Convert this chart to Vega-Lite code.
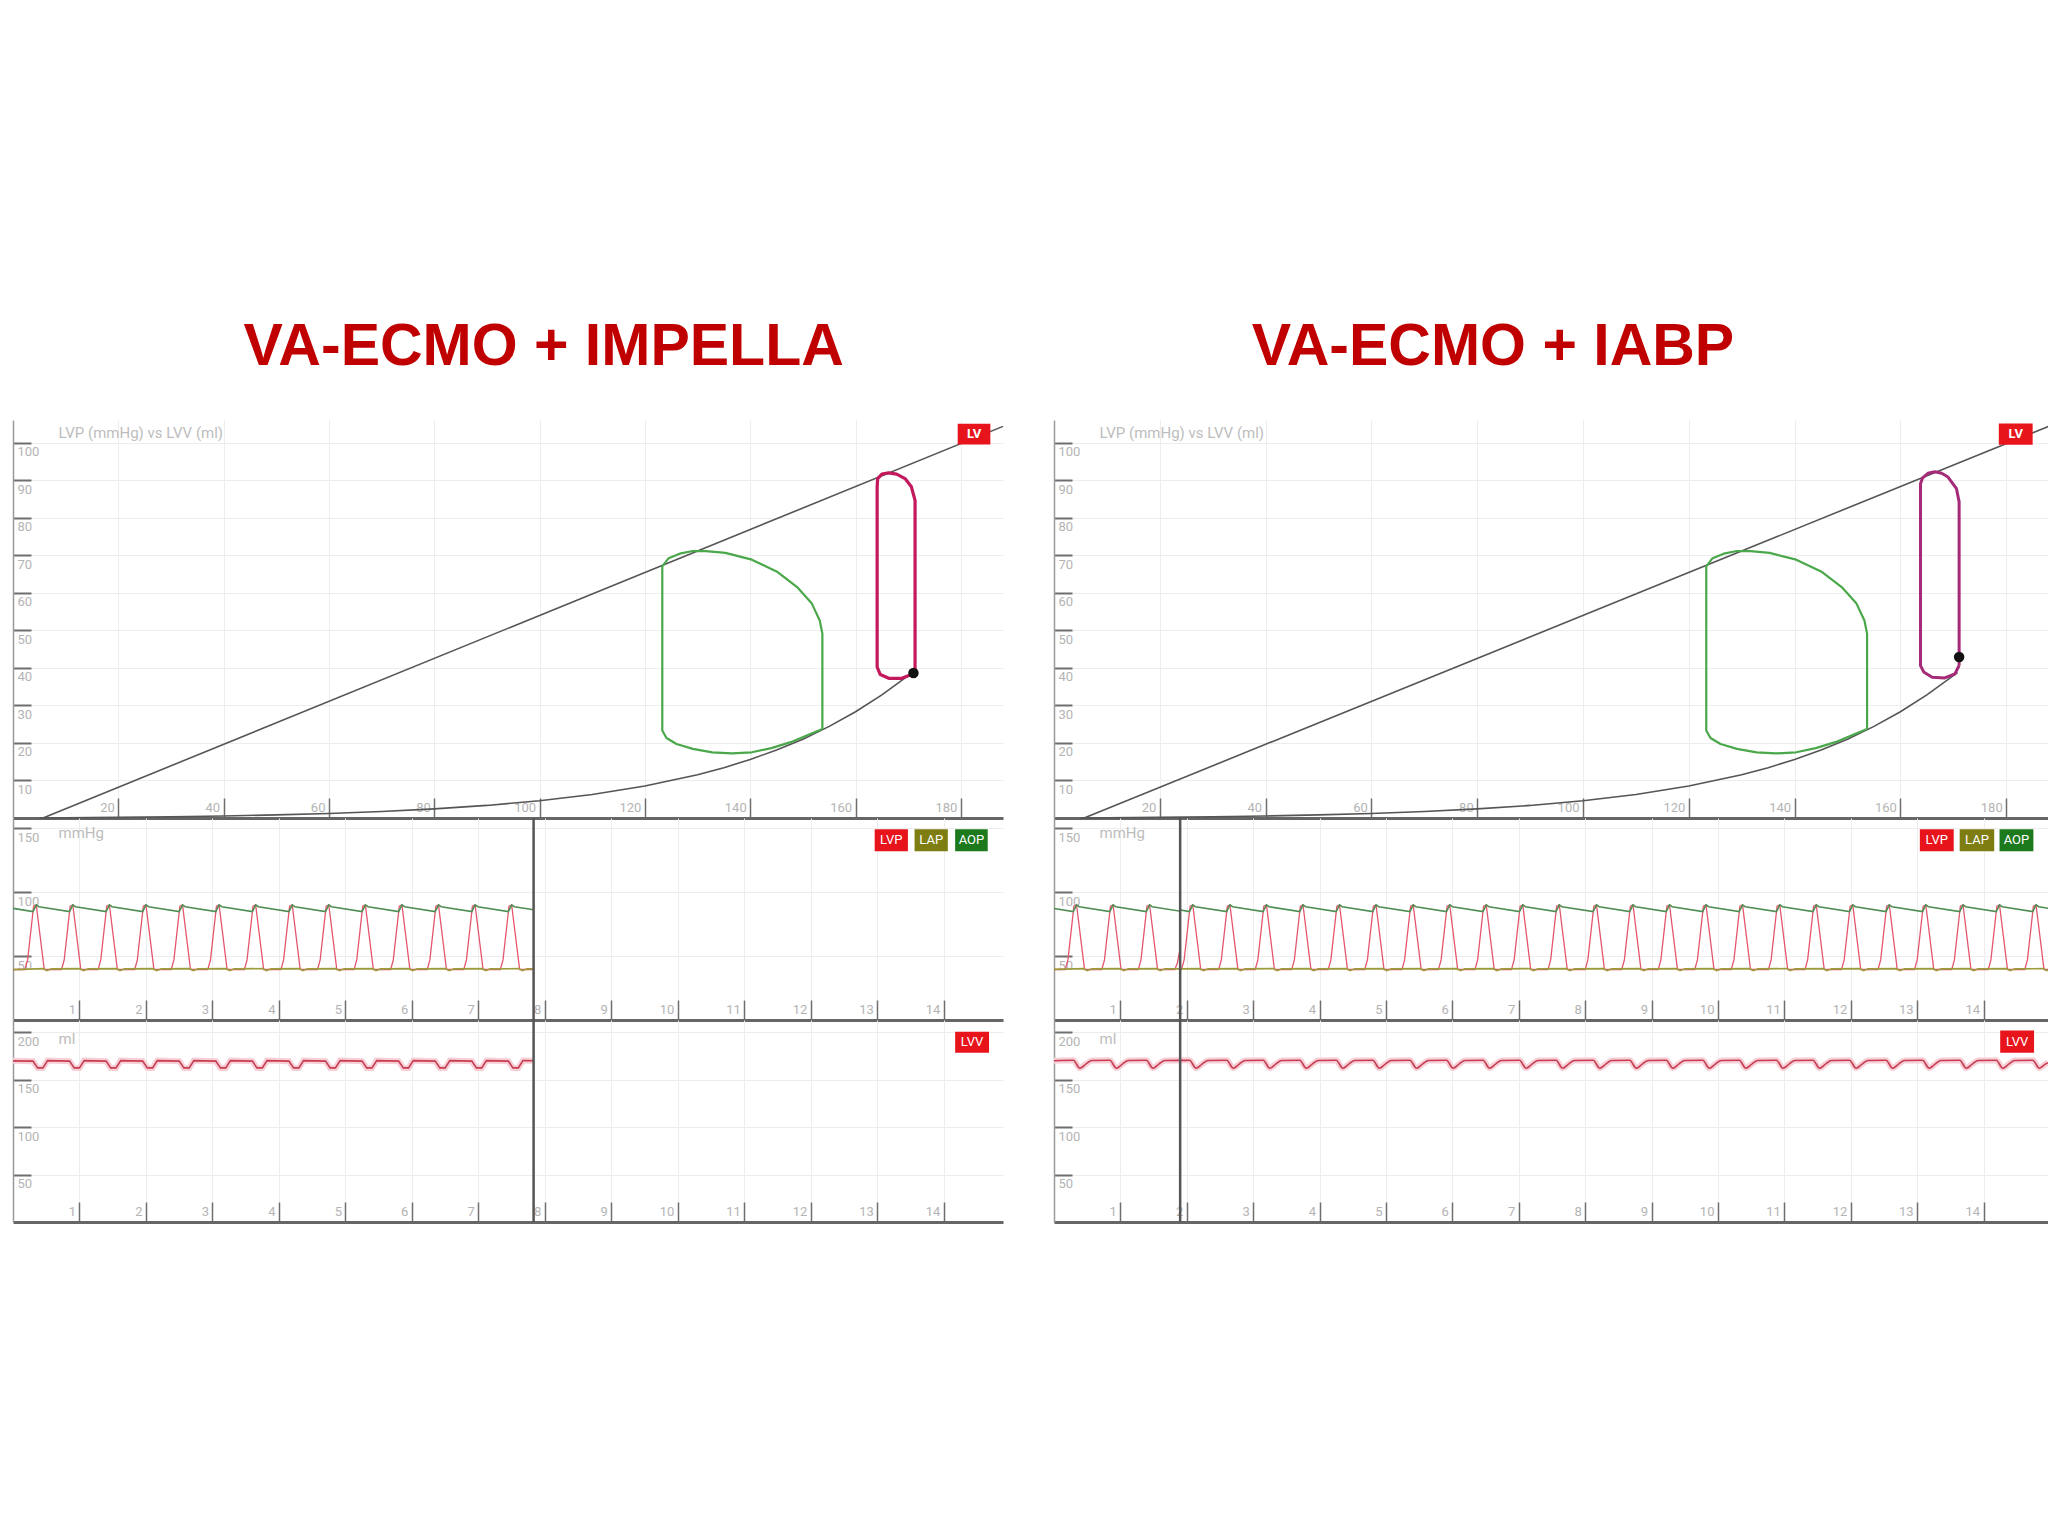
{
"$schema": "https://vega.github.io/schema/vega-lite/v6.json",
"background": "white",
"padding": {"left": 1, "top": 318, "right": 0, "bottom": 0},
"config": {
 "view": {"stroke": null},
 "axis": {"labelFont": "Roboto", "labelFontSize": 13, "labelColor": "#b4b4b4", "labelFlush": false, "labelOverlap": false, "gridColor": "#ededed", "gridWidth": 1, "tickColor": "#6e6e6e", "titleFont": "Roboto", "titleFontWeight": "normal", "titleColor": "#bdbdbd", "titleFontSize": 15},
 "axisX": {"tickSize": -20, "tickWidth": 1.5, "labelAlign": "right", "labelBaseline": "bottom", "labelPadding": 16, "labelOffset": -4, "domainColor": "#666666", "domainWidth": 3, "format": "d"},
 "axisY": {"tickSize": -18, "tickWidth": 2, "labelAlign": "left", "labelBaseline": "top", "labelPadding": 14, "labelOffset": 3, "domainColor": "#9a9a9a", "domainWidth": 1.5, "titleAngle": 0, "titleAlign": "left", "titleBaseline": "middle", "titleX": 45, "titleY": 12}
},
"datasets": {
 "espvr": [{"v":5.7,"p":0},{"v":188,"p":104.3}],
 "edpvr": [{"v":5,"p":0},{"v":20,"p":0.17},{"v":30,"p":0.33},{"v":40,"p":0.54},{"v":50,"p":0.83},{"v":60,"p":1.21},{"v":70,"p":1.73},{"v":80,"p":2.42},{"v":90,"p":3.35},{"v":100,"p":4.6},{"v":110,"p":6.27},{"v":120,"p":8.52},{"v":130,"p":11.5},{"v":135,"p":13.4},{"v":140,"p":15.6},{"v":145,"p":18.1},{"v":150,"p":21},{"v":155,"p":24.4},{"v":160,"p":28.3},{"v":165,"p":32.8},{"v":170.8,"p":38.7}],
 "green": [{"o":1,"v":153.7,"p":23.7},{"o":2,"v":153.7,"p":49.1},{"o":3,"v":153.2,"p":52.6},{"o":4,"v":151.7,"p":57.1},{"o":5,"v":148.9,"p":61.5},{"o":6,"v":145.2,"p":65.5},{"o":7,"v":140.3,"p":68.8},{"o":8,"v":135.3,"p":70.6},{"o":9,"v":131.6,"p":71.1},{"o":10,"v":129.1,"p":71.1},{"o":11,"v":126.6,"p":70.4},{"o":12,"v":124.5,"p":69.2},{"o":13,"v":123.3,"p":67},{"o":14,"v":123.3,"p":23.3},{"o":15,"v":124.1,"p":21.3},{"o":16,"v":126,"p":19.7},{"o":17,"v":129.1,"p":18.4},{"o":18,"v":132.8,"p":17.5},{"o":19,"v":136.5,"p":17.2},{"o":20,"v":140.3,"p":17.5},{"o":21,"v":144,"p":18.6},{"o":22,"v":147.7,"p":20.2},{"o":23,"v":151.4,"p":22.4},{"o":24,"v":153.7,"p":23.7}],
 "redL": [{"o":1,"v":171.3,"p":39.3},{"o":2,"v":171.3,"p":84.6},{"o":3,"v":170.6,"p":88.2},{"o":4,"v":169.4,"p":90.4},{"o":5,"v":167.8,"p":91.6},{"o":6,"v":166.3,"p":91.9},{"o":7,"v":165,"p":91.6},{"o":8,"v":164.2,"p":90.4},{"o":9,"v":164.1,"p":88.2},{"o":10,"v":164.1,"p":40.2},{"o":11,"v":164.7,"p":38.2},{"o":12,"v":166.3,"p":37.2},{"o":13,"v":168.8,"p":37.2},{"o":14,"v":170.6,"p":38.2},{"o":15,"v":171.3,"p":39.3}],
 "redR": [{"o":1,"v":171.1,"p":40.6},{"o":2,"v":171.1,"p":84.2},{"o":3,"v":170.6,"p":87.7},{"o":4,"v":169,"p":90.8},{"o":5,"v":167.8,"p":91.8},{"o":6,"v":166.5,"p":92.2},{"o":7,"v":165.2,"p":91.8},{"o":8,"v":164.2,"p":90.6},{"o":9,"v":163.8,"p":89},{"o":10,"v":163.8,"p":40.6},{"o":11,"v":164.4,"p":38.9},{"o":12,"v":166,"p":37.5},{"o":13,"v":168.4,"p":37.3},{"o":14,"v":170.3,"p":38.4},{"o":15,"v":171.1,"p":40.6}],
 "lvpL": [{"t":0,"y":39.5},
{"t":0.18,"y":39.5},{"t":0.22,"y":47},{"t":0.31,"y":89},{"t":0.35,"y":90},{"t":0.47,"y":39.5},
{"t":0.73,"y":39.5},{"t":0.77,"y":47},{"t":0.86,"y":89},{"t":0.9,"y":90},{"t":1.02,"y":39.5},
{"t":1.28,"y":39.5},{"t":1.32,"y":47},{"t":1.41,"y":89},{"t":1.45,"y":90},{"t":1.57,"y":39.5},
{"t":1.83,"y":39.5},{"t":1.87,"y":47},{"t":1.96,"y":89},{"t":2,"y":90},{"t":2.12,"y":39.5},
{"t":2.38,"y":39.5},{"t":2.42,"y":47},{"t":2.51,"y":89},{"t":2.55,"y":90},{"t":2.67,"y":39.5},
{"t":2.93,"y":39.5},{"t":2.97,"y":47},{"t":3.06,"y":89},{"t":3.1,"y":90},{"t":3.22,"y":39.5},
{"t":3.48,"y":39.5},{"t":3.52,"y":47},{"t":3.61,"y":89},{"t":3.65,"y":90},{"t":3.77,"y":39.5},
{"t":4.03,"y":39.5},{"t":4.07,"y":47},{"t":4.16,"y":89},{"t":4.2,"y":90},{"t":4.32,"y":39.5},
{"t":4.58,"y":39.5},{"t":4.62,"y":47},{"t":4.71,"y":89},{"t":4.75,"y":90},{"t":4.87,"y":39.5},
{"t":5.13,"y":39.5},{"t":5.17,"y":47},{"t":5.26,"y":89},{"t":5.3,"y":90},{"t":5.42,"y":39.5},
{"t":5.68,"y":39.5},{"t":5.72,"y":47},{"t":5.81,"y":89},{"t":5.85,"y":90},{"t":5.97,"y":39.5},
{"t":6.23,"y":39.5},{"t":6.27,"y":47},{"t":6.36,"y":89},{"t":6.4,"y":90},{"t":6.52,"y":39.5},
{"t":6.78,"y":39.5},{"t":6.82,"y":47},{"t":6.91,"y":89},{"t":6.95,"y":90},{"t":7.07,"y":39.5},
{"t":7.33,"y":39.5},{"t":7.37,"y":47},{"t":7.46,"y":89},{"t":7.5,"y":90},{"t":7.62,"y":39.5},
{"t":7.83,"y":39.5}],
 "aopL": [{"t":0,"y":87.3},
{"t":0.3,"y":84.8},{"t":0.35,"y":90},{"t":0.39,"y":88.6},
{"t":0.85,"y":84.8},{"t":0.9,"y":90},{"t":0.94,"y":88.6},
{"t":1.4,"y":84.8},{"t":1.45,"y":90},{"t":1.49,"y":88.6},
{"t":1.95,"y":84.8},{"t":2,"y":90},{"t":2.04,"y":88.6},
{"t":2.5,"y":84.8},{"t":2.55,"y":90},{"t":2.59,"y":88.6},
{"t":3.05,"y":84.8},{"t":3.1,"y":90},{"t":3.14,"y":88.6},
{"t":3.6,"y":84.8},{"t":3.65,"y":90},{"t":3.69,"y":88.6},
{"t":4.15,"y":84.8},{"t":4.2,"y":90},{"t":4.24,"y":88.6},
{"t":4.7,"y":84.8},{"t":4.75,"y":90},{"t":4.79,"y":88.6},
{"t":5.25,"y":84.8},{"t":5.3,"y":90},{"t":5.34,"y":88.6},
{"t":5.8,"y":84.8},{"t":5.85,"y":90},{"t":5.89,"y":88.6},
{"t":6.35,"y":84.8},{"t":6.4,"y":90},{"t":6.44,"y":88.6},
{"t":6.9,"y":84.8},{"t":6.95,"y":90},{"t":6.99,"y":88.6},
{"t":7.45,"y":84.8},{"t":7.5,"y":90},{"t":7.54,"y":88.6},
{"t":7.83,"y":86.2}],
 "lapL": [{"t":0,"y":39.4},
{"t":0.46,"y":40.2},{"t":0.51,"y":38.6},{"t":0.58,"y":40},
{"t":1.01,"y":40.2},{"t":1.06,"y":38.6},{"t":1.13,"y":40},
{"t":1.56,"y":40.2},{"t":1.61,"y":38.6},{"t":1.68,"y":40},
{"t":2.11,"y":40.2},{"t":2.16,"y":38.6},{"t":2.23,"y":40},
{"t":2.66,"y":40.2},{"t":2.71,"y":38.6},{"t":2.78,"y":40},
{"t":3.21,"y":40.2},{"t":3.26,"y":38.6},{"t":3.33,"y":40},
{"t":3.76,"y":40.2},{"t":3.81,"y":38.6},{"t":3.88,"y":40},
{"t":4.31,"y":40.2},{"t":4.36,"y":38.6},{"t":4.43,"y":40},
{"t":4.86,"y":40.2},{"t":4.91,"y":38.6},{"t":4.98,"y":40},
{"t":5.41,"y":40.2},{"t":5.46,"y":38.6},{"t":5.53,"y":40},
{"t":5.96,"y":40.2},{"t":6.01,"y":38.6},{"t":6.08,"y":40},
{"t":6.51,"y":40.2},{"t":6.56,"y":38.6},{"t":6.63,"y":40},
{"t":7.06,"y":40.2},{"t":7.11,"y":38.6},{"t":7.18,"y":40},
{"t":7.61,"y":40.2},{"t":7.66,"y":38.6},{"t":7.73,"y":40},
{"t":7.83,"y":40}],
 "lvvL": [{"t":0,"y":169.9},
{"t":0.3,"y":169.6},{"t":0.37,"y":162.5},{"t":0.45,"y":162.5},{"t":0.52,"y":170.2},
{"t":0.85,"y":169.6},{"t":0.92,"y":162.5},{"t":1,"y":162.5},{"t":1.07,"y":170.2},
{"t":1.4,"y":169.6},{"t":1.47,"y":162.5},{"t":1.55,"y":162.5},{"t":1.62,"y":170.2},
{"t":1.95,"y":169.6},{"t":2.02,"y":162.5},{"t":2.1,"y":162.5},{"t":2.17,"y":170.2},
{"t":2.5,"y":169.6},{"t":2.57,"y":162.5},{"t":2.65,"y":162.5},{"t":2.72,"y":170.2},
{"t":3.05,"y":169.6},{"t":3.12,"y":162.5},{"t":3.2,"y":162.5},{"t":3.27,"y":170.2},
{"t":3.6,"y":169.6},{"t":3.67,"y":162.5},{"t":3.75,"y":162.5},{"t":3.82,"y":170.2},
{"t":4.15,"y":169.6},{"t":4.22,"y":162.5},{"t":4.3,"y":162.5},{"t":4.37,"y":170.2},
{"t":4.7,"y":169.6},{"t":4.77,"y":162.5},{"t":4.85,"y":162.5},{"t":4.92,"y":170.2},
{"t":5.25,"y":169.6},{"t":5.32,"y":162.5},{"t":5.4,"y":162.5},{"t":5.47,"y":170.2},
{"t":5.8,"y":169.6},{"t":5.87,"y":162.5},{"t":5.95,"y":162.5},{"t":6.02,"y":170.2},
{"t":6.35,"y":169.6},{"t":6.42,"y":162.5},{"t":6.5,"y":162.5},{"t":6.57,"y":170.2},
{"t":6.9,"y":169.6},{"t":6.97,"y":162.5},{"t":7.05,"y":162.5},{"t":7.12,"y":170.2},
{"t":7.45,"y":169.6},{"t":7.52,"y":162.5},{"t":7.6,"y":162.5},{"t":7.67,"y":170.2},
{"t":7.83,"y":170}],
 "lvpR": [{"t":0,"y":39.5},
{"t":0.17,"y":39.5},{"t":0.21,"y":47},{"t":0.3,"y":89},{"t":0.34,"y":90},{"t":0.46,"y":39.5},
{"t":0.72,"y":39.5},{"t":0.76,"y":47},{"t":0.85,"y":89},{"t":0.89,"y":90},{"t":1.01,"y":39.5},
{"t":1.27,"y":39.5},{"t":1.31,"y":47},{"t":1.4,"y":89},{"t":1.44,"y":90},{"t":1.56,"y":39.5},
{"t":1.82,"y":39.5},{"t":1.86,"y":45},{"t":1.899,"y":56},
{"t":1.901,"y":39.5},
{"t":1.92,"y":39.5},{"t":1.96,"y":47},{"t":2.05,"y":89},{"t":2.09,"y":90},{"t":2.21,"y":39.5},
{"t":2.48,"y":39.5},{"t":2.52,"y":47},{"t":2.61,"y":89},{"t":2.65,"y":90},{"t":2.77,"y":39.5},
{"t":3.03,"y":39.5},{"t":3.07,"y":47},{"t":3.16,"y":89},{"t":3.2,"y":90},{"t":3.32,"y":39.5},
{"t":3.58,"y":39.5},{"t":3.62,"y":47},{"t":3.71,"y":89},{"t":3.75,"y":90},{"t":3.87,"y":39.5},
{"t":4.13,"y":39.5},{"t":4.17,"y":47},{"t":4.26,"y":89},{"t":4.3,"y":90},{"t":4.42,"y":39.5},
{"t":4.68,"y":39.5},{"t":4.72,"y":47},{"t":4.81,"y":89},{"t":4.85,"y":90},{"t":4.97,"y":39.5},
{"t":5.24,"y":39.5},{"t":5.28,"y":47},{"t":5.37,"y":89},{"t":5.41,"y":90},{"t":5.53,"y":39.5},
{"t":5.79,"y":39.5},{"t":5.83,"y":47},{"t":5.92,"y":89},{"t":5.96,"y":90},{"t":6.08,"y":39.5},
{"t":6.34,"y":39.5},{"t":6.38,"y":47},{"t":6.47,"y":89},{"t":6.51,"y":90},{"t":6.63,"y":39.5},
{"t":6.89,"y":39.5},{"t":6.93,"y":47},{"t":7.02,"y":89},{"t":7.06,"y":90},{"t":7.18,"y":39.5},
{"t":7.44,"y":39.5},{"t":7.48,"y":47},{"t":7.57,"y":89},{"t":7.61,"y":90},{"t":7.73,"y":39.5},
{"t":8,"y":39.5},{"t":8.04,"y":47},{"t":8.13,"y":89},{"t":8.17,"y":90},{"t":8.29,"y":39.5},
{"t":8.55,"y":39.5},{"t":8.59,"y":47},{"t":8.68,"y":89},{"t":8.72,"y":90},{"t":8.84,"y":39.5},
{"t":9.1,"y":39.5},{"t":9.14,"y":47},{"t":9.23,"y":89},{"t":9.27,"y":90},{"t":9.39,"y":39.5},
{"t":9.65,"y":39.5},{"t":9.69,"y":47},{"t":9.78,"y":89},{"t":9.82,"y":90},{"t":9.94,"y":39.5},
{"t":10.2,"y":39.5},{"t":10.24,"y":47},{"t":10.33,"y":89},{"t":10.37,"y":90},{"t":10.49,"y":39.5},
{"t":10.76,"y":39.5},{"t":10.8,"y":47},{"t":10.89,"y":89},{"t":10.93,"y":90},{"t":11.05,"y":39.5},
{"t":11.31,"y":39.5},{"t":11.35,"y":47},{"t":11.44,"y":89},{"t":11.48,"y":90},{"t":11.6,"y":39.5},
{"t":11.86,"y":39.5},{"t":11.9,"y":47},{"t":11.99,"y":89},{"t":12.03,"y":90},{"t":12.15,"y":39.5},
{"t":12.41,"y":39.5},{"t":12.45,"y":47},{"t":12.54,"y":89},{"t":12.58,"y":90},{"t":12.7,"y":39.5},
{"t":12.96,"y":39.5},{"t":13,"y":47},{"t":13.09,"y":89},{"t":13.13,"y":90},{"t":13.25,"y":39.5},
{"t":13.52,"y":39.5},{"t":13.56,"y":47},{"t":13.65,"y":89},{"t":13.69,"y":90},{"t":13.81,"y":39.5},
{"t":14.07,"y":39.5},{"t":14.11,"y":47},{"t":14.2,"y":89},{"t":14.24,"y":90},{"t":14.36,"y":39.5},
{"t":14.62,"y":39.5},{"t":14.66,"y":47},{"t":14.75,"y":89},{"t":14.79,"y":90},{"t":14.91,"y":39.5},
{"t":14.97,"y":39.5}],
 "aopR": [{"t":0,"y":87.2},
{"t":0.29,"y":84.8},{"t":0.34,"y":90},{"t":0.38,"y":88.6},
{"t":0.84,"y":84.8},{"t":0.89,"y":90},{"t":0.93,"y":88.6},
{"t":1.39,"y":84.8},{"t":1.44,"y":90},{"t":1.48,"y":88.6},
{"t":1.899,"y":85.1},{"t":1.901,"y":86},
{"t":2.04,"y":84.8},{"t":2.09,"y":90},{"t":2.13,"y":88.6},
{"t":2.6,"y":84.8},{"t":2.65,"y":90},{"t":2.69,"y":88.6},
{"t":3.15,"y":84.8},{"t":3.2,"y":90},{"t":3.24,"y":88.6},
{"t":3.7,"y":84.8},{"t":3.75,"y":90},{"t":3.79,"y":88.6},
{"t":4.25,"y":84.8},{"t":4.3,"y":90},{"t":4.34,"y":88.6},
{"t":4.8,"y":84.8},{"t":4.85,"y":90},{"t":4.89,"y":88.6},
{"t":5.36,"y":84.8},{"t":5.41,"y":90},{"t":5.45,"y":88.6},
{"t":5.91,"y":84.8},{"t":5.96,"y":90},{"t":6,"y":88.6},
{"t":6.46,"y":84.8},{"t":6.51,"y":90},{"t":6.55,"y":88.6},
{"t":7.01,"y":84.8},{"t":7.06,"y":90},{"t":7.1,"y":88.6},
{"t":7.56,"y":84.8},{"t":7.61,"y":90},{"t":7.65,"y":88.6},
{"t":8.12,"y":84.8},{"t":8.17,"y":90},{"t":8.21,"y":88.6},
{"t":8.67,"y":84.8},{"t":8.72,"y":90},{"t":8.76,"y":88.6},
{"t":9.22,"y":84.8},{"t":9.27,"y":90},{"t":9.31,"y":88.6},
{"t":9.77,"y":84.8},{"t":9.82,"y":90},{"t":9.86,"y":88.6},
{"t":10.32,"y":84.8},{"t":10.37,"y":90},{"t":10.41,"y":88.6},
{"t":10.88,"y":84.8},{"t":10.93,"y":90},{"t":10.97,"y":88.6},
{"t":11.43,"y":84.8},{"t":11.48,"y":90},{"t":11.52,"y":88.6},
{"t":11.98,"y":84.8},{"t":12.03,"y":90},{"t":12.07,"y":88.6},
{"t":12.53,"y":84.8},{"t":12.58,"y":90},{"t":12.62,"y":88.6},
{"t":13.08,"y":84.8},{"t":13.13,"y":90},{"t":13.17,"y":88.6},
{"t":13.64,"y":84.8},{"t":13.69,"y":90},{"t":13.73,"y":88.6},
{"t":14.19,"y":84.8},{"t":14.24,"y":90},{"t":14.28,"y":88.6},
{"t":14.74,"y":84.8},{"t":14.79,"y":90},{"t":14.83,"y":88.6},
{"t":14.97,"y":87.4}],
 "lapR": [{"t":0,"y":39.6},
{"t":0.45,"y":40.2},{"t":0.5,"y":38.6},{"t":0.57,"y":40},
{"t":1,"y":40.2},{"t":1.05,"y":38.6},{"t":1.12,"y":40},
{"t":1.55,"y":40.2},{"t":1.6,"y":38.6},{"t":1.67,"y":40},
{"t":1.899,"y":40},{"t":1.901,"y":40},
{"t":2.2,"y":40.2},{"t":2.25,"y":38.6},{"t":2.32,"y":40},
{"t":2.76,"y":40.2},{"t":2.81,"y":38.6},{"t":2.88,"y":40},
{"t":3.31,"y":40.2},{"t":3.36,"y":38.6},{"t":3.43,"y":40},
{"t":3.86,"y":40.2},{"t":3.91,"y":38.6},{"t":3.98,"y":40},
{"t":4.41,"y":40.2},{"t":4.46,"y":38.6},{"t":4.53,"y":40},
{"t":4.96,"y":40.2},{"t":5.01,"y":38.6},{"t":5.08,"y":40},
{"t":5.52,"y":40.2},{"t":5.57,"y":38.6},{"t":5.64,"y":40},
{"t":6.07,"y":40.2},{"t":6.12,"y":38.6},{"t":6.19,"y":40},
{"t":6.62,"y":40.2},{"t":6.67,"y":38.6},{"t":6.74,"y":40},
{"t":7.17,"y":40.2},{"t":7.22,"y":38.6},{"t":7.29,"y":40},
{"t":7.72,"y":40.2},{"t":7.77,"y":38.6},{"t":7.84,"y":40},
{"t":8.28,"y":40.2},{"t":8.33,"y":38.6},{"t":8.4,"y":40},
{"t":8.83,"y":40.2},{"t":8.88,"y":38.6},{"t":8.95,"y":40},
{"t":9.38,"y":40.2},{"t":9.43,"y":38.6},{"t":9.5,"y":40},
{"t":9.93,"y":40.2},{"t":9.98,"y":38.6},{"t":10.05,"y":40},
{"t":10.48,"y":40.2},{"t":10.53,"y":38.6},{"t":10.6,"y":40},
{"t":11.04,"y":40.2},{"t":11.09,"y":38.6},{"t":11.16,"y":40},
{"t":11.59,"y":40.2},{"t":11.64,"y":38.6},{"t":11.71,"y":40},
{"t":12.14,"y":40.2},{"t":12.19,"y":38.6},{"t":12.26,"y":40},
{"t":12.69,"y":40.2},{"t":12.74,"y":38.6},{"t":12.81,"y":40},
{"t":13.24,"y":40.2},{"t":13.29,"y":38.6},{"t":13.36,"y":40},
{"t":13.8,"y":40.2},{"t":13.85,"y":38.6},{"t":13.92,"y":40},
{"t":14.35,"y":40.2},{"t":14.4,"y":38.6},{"t":14.47,"y":40},
{"t":14.9,"y":40.2},{"t":14.95,"y":38.6},{"t":14.97,"y":39}],
 "lvvR": [{"t":0,"y":170},
{"t":0.29,"y":170.5},{"t":0.39,"y":162.2},{"t":0.48,"y":166.5},{"t":0.57,"y":170.3},
{"t":0.84,"y":170.5},{"t":0.94,"y":162.2},{"t":1.03,"y":166.5},{"t":1.12,"y":170.3},
{"t":1.39,"y":170.5},{"t":1.49,"y":162.2},{"t":1.58,"y":166.5},{"t":1.67,"y":170.3},
{"t":1.899,"y":170.5},{"t":1.901,"y":170.4},
{"t":2.04,"y":170.5},{"t":2.14,"y":162.2},{"t":2.23,"y":166.5},{"t":2.32,"y":170.3},
{"t":2.6,"y":170.5},{"t":2.7,"y":162.2},{"t":2.79,"y":166.5},{"t":2.88,"y":170.3},
{"t":3.15,"y":170.5},{"t":3.25,"y":162.2},{"t":3.34,"y":166.5},{"t":3.43,"y":170.3},
{"t":3.7,"y":170.5},{"t":3.8,"y":162.2},{"t":3.89,"y":166.5},{"t":3.98,"y":170.3},
{"t":4.25,"y":170.5},{"t":4.35,"y":162.2},{"t":4.44,"y":166.5},{"t":4.53,"y":170.3},
{"t":4.8,"y":170.5},{"t":4.9,"y":162.2},{"t":4.99,"y":166.5},{"t":5.08,"y":170.3},
{"t":5.36,"y":170.5},{"t":5.46,"y":162.2},{"t":5.55,"y":166.5},{"t":5.64,"y":170.3},
{"t":5.91,"y":170.5},{"t":6.01,"y":162.2},{"t":6.1,"y":166.5},{"t":6.19,"y":170.3},
{"t":6.46,"y":170.5},{"t":6.56,"y":162.2},{"t":6.65,"y":166.5},{"t":6.74,"y":170.3},
{"t":7.01,"y":170.5},{"t":7.11,"y":162.2},{"t":7.2,"y":166.5},{"t":7.29,"y":170.3},
{"t":7.56,"y":170.5},{"t":7.66,"y":162.2},{"t":7.75,"y":166.5},{"t":7.84,"y":170.3},
{"t":8.12,"y":170.5},{"t":8.22,"y":162.2},{"t":8.31,"y":166.5},{"t":8.4,"y":170.3},
{"t":8.67,"y":170.5},{"t":8.77,"y":162.2},{"t":8.86,"y":166.5},{"t":8.95,"y":170.3},
{"t":9.22,"y":170.5},{"t":9.32,"y":162.2},{"t":9.41,"y":166.5},{"t":9.5,"y":170.3},
{"t":9.77,"y":170.5},{"t":9.87,"y":162.2},{"t":9.96,"y":166.5},{"t":10.05,"y":170.3},
{"t":10.32,"y":170.5},{"t":10.42,"y":162.2},{"t":10.51,"y":166.5},{"t":10.6,"y":170.3},
{"t":10.88,"y":170.5},{"t":10.98,"y":162.2},{"t":11.07,"y":166.5},{"t":11.16,"y":170.3},
{"t":11.43,"y":170.5},{"t":11.53,"y":162.2},{"t":11.62,"y":166.5},{"t":11.71,"y":170.3},
{"t":11.98,"y":170.5},{"t":12.08,"y":162.2},{"t":12.17,"y":166.5},{"t":12.26,"y":170.3},
{"t":12.53,"y":170.5},{"t":12.63,"y":162.2},{"t":12.72,"y":166.5},{"t":12.81,"y":170.3},
{"t":13.08,"y":170.5},{"t":13.18,"y":162.2},{"t":13.27,"y":166.5},{"t":13.36,"y":170.3},
{"t":13.64,"y":170.5},{"t":13.74,"y":162.2},{"t":13.83,"y":166.5},{"t":13.92,"y":170.3},
{"t":14.19,"y":170.5},{"t":14.29,"y":162.2},{"t":14.38,"y":166.5},{"t":14.47,"y":170.3},
{"t":14.74,"y":170.5},{"t":14.84,"y":162.2},{"t":14.93,"y":166.5},{"t":14.97,"y":168}]
},
"spacing": 35,
"hconcat": [
 {
  "title": {"text": "VA-ECMO + IMPELLA", "font": "Liberation Sans", "fontSize": 59, "fontWeight": "bold", "color": "#C00000", "anchor": "middle", "dx": 40, "offset": 43, "frame": "bounds"},
  "spacing": 0,
  "bounds": "flush",
  "vconcat": [
   {
    "width": 990, "height": 398,
    "layer": [
     {"data": {"name": "espvr"}, "mark": {"type": "line", "color": "#555555", "strokeWidth": 1.6},
      "encoding": {"x": {"field": "v", "type": "quantitative", "scale": {"domain": [0, 188], "nice": false, "zero": false}, "axis": {"values": [20,40,60,80,100,120,140,160,180], "title": null}},
                   "y": {"field": "p", "type": "quantitative", "scale": {"domain": [0, 106], "nice": false}, "axis": {"values": [10,20,30,40,50,60,70,80,90,100], "title": "LVP (mmHg) vs LVV (ml)"}}}},
     {"data": {"name": "edpvr"}, "mark": {"type": "line", "color": "#555555", "strokeWidth": 1.6},
      "encoding": {"x": {"field": "v", "type": "quantitative"}, "y": {"field": "p", "type": "quantitative"}}},
     {"data": {"name": "green"}, "mark": {"type": "line", "color": "#4aa84a", "strokeWidth": 2.2, "strokeJoin": "round"},
      "encoding": {"x": {"field": "v", "type": "quantitative"}, "y": {"field": "p", "type": "quantitative"}, "order": {"field": "o", "type": "quantitative"}}},
     {"data": {"name": "redL"}, "mark": {"type": "line", "color": "#c4185c", "strokeWidth": 3.2, "strokeJoin": "round"},
      "encoding": {"x": {"field": "v", "type": "quantitative"}, "y": {"field": "p", "type": "quantitative"}, "order": {"field": "o", "type": "quantitative"}}},
     {"data": {"values": [{"v": 171, "p": 38.6}]}, "mark": {"type": "point", "filled": true, "color": "#111111", "size": 110, "opacity": 1},
      "encoding": {"x": {"field": "v", "type": "quantitative"}, "y": {"field": "p", "type": "quantitative"}}},
     {"data": {"values": [{}]}, "mark": {"type": "rect", "color": "#e8141c"},
      "encoding": {"x": {"datum": 179.4, "type": "quantitative"}, "x2": {"datum": 185.6}, "y": {"datum": 105, "type": "quantitative"}, "y2": {"datum": 99.5}}},
     {"data": {"values": [{}]}, "mark": {"type": "text", "color": "white", "fontSize": 13, "font": "Roboto", "fontWeight": "bold"},
      "encoding": {"x": {"datum": 182.5, "type": "quantitative"}, "y": {"datum": 102.2, "type": "quantitative"}, "text": {"value": "LV"}}}
    ]
   },
   {
    "width": 990, "height": 202,
    "layer": [
     {"data": {"name": "lvpL"}, "mark": {"type": "line", "color": "#e3566e", "strokeWidth": 1.3},
      "encoding": {"x": {"field": "t", "type": "quantitative", "scale": {"domain": [0, 14.89], "nice": false, "zero": false}, "axis": {"values": [1,2,3,4,5,6,7,8,9,10,11,12,13,14], "title": null}},
                   "y": {"field": "y", "type": "quantitative", "scale": {"domain": [0, 158], "nice": false}, "axis": {"values": [50,100,150], "title": "mmHg", "titleY": 14}}}},
     {"data": {"name": "lapL"}, "mark": {"type": "line", "color": "#9c9c3c", "strokeWidth": 1.6},
      "encoding": {"x": {"field": "t", "type": "quantitative"}, "y": {"field": "y", "type": "quantitative"}}},
     {"data": {"name": "aopL"}, "mark": {"type": "line", "color": "#4e8e52", "strokeWidth": 1.6},
      "encoding": {"x": {"field": "t", "type": "quantitative"}, "y": {"field": "y", "type": "quantitative"}}},
     {"data": {"values": [{}]}, "mark": {"type": "rule", "color": "#555555", "strokeWidth": 2.5},
      "encoding": {"x": {"datum": 7.83, "type": "quantitative"}}},
     {"data": {"values": [{}]}, "mark": {"type": "rect", "color": "#e8141c"},
      "encoding": {"x": {"datum": 12.96, "type": "quantitative"}, "x2": {"datum": 13.46}, "y": {"datum": 149.2, "type": "quantitative"}, "y2": {"datum": 132}}},
     {"data": {"values": [{}]}, "mark": {"type": "rect", "color": "#7d7d12"},
      "encoding": {"x": {"datum": 13.56, "type": "quantitative"}, "x2": {"datum": 14.06}, "y": {"datum": 149.2, "type": "quantitative"}, "y2": {"datum": 132}}},
     {"data": {"values": [{}]}, "mark": {"type": "rect", "color": "#1c7a1c"},
      "encoding": {"x": {"datum": 14.17, "type": "quantitative"}, "x2": {"datum": 14.66}, "y": {"datum": 149.2, "type": "quantitative"}, "y2": {"datum": 132}}},
     {"data": {"values": [{}]}, "mark": {"type": "text", "color": "white", "fontSize": 13, "font": "Roboto"},
      "encoding": {"x": {"datum": 13.21, "type": "quantitative"}, "y": {"datum": 140.6, "type": "quantitative"}, "text": {"value": "LVP"}}},
     {"data": {"values": [{}]}, "mark": {"type": "text", "color": "white", "fontSize": 13, "font": "Roboto"},
      "encoding": {"x": {"datum": 13.81, "type": "quantitative"}, "y": {"datum": 140.6, "type": "quantitative"}, "text": {"value": "LAP"}}},
     {"data": {"values": [{}]}, "mark": {"type": "text", "color": "white", "fontSize": 13, "font": "Roboto"},
      "encoding": {"x": {"datum": 14.415, "type": "quantitative"}, "y": {"datum": 140.6, "type": "quantitative"}, "text": {"value": "AOP"}}}
    ]
   },
   {
    "width": 990, "height": 202,
    "layer": [
     {"data": {"name": "lvvL"}, "mark": {"type": "line", "color": "#f7d0d7", "strokeWidth": 6},
      "encoding": {"x": {"field": "t", "type": "quantitative", "scale": {"domain": [0, 14.89], "nice": false, "zero": false}, "axis": {"values": [1,2,3,4,5,6,7,8,9,10,11,12,13,14], "title": null}},
                   "y": {"field": "y", "type": "quantitative", "scale": {"domain": [0, 213], "nice": false}, "axis": {"values": [50,100,150,200], "title": "ml", "titleY": 18}}}},
     {"data": {"name": "lvvL"}, "mark": {"type": "line", "color": "#c83c52", "strokeWidth": 1.6},
      "encoding": {"x": {"field": "t", "type": "quantitative"}, "y": {"field": "y", "type": "quantitative"}}},
     {"data": {"values": [{}]}, "mark": {"type": "rule", "color": "#555555", "strokeWidth": 2.5},
      "encoding": {"x": {"datum": 7.83, "type": "quantitative"}}},
     {"data": {"values": [{}]}, "mark": {"type": "rect", "color": "#e8141c"},
      "encoding": {"x": {"datum": 14.17, "type": "quantitative"}, "x2": {"datum": 14.68}, "y": {"datum": 200.6, "type": "quantitative"}, "y2": {"datum": 178.5}}},
     {"data": {"values": [{}]}, "mark": {"type": "text", "color": "white", "fontSize": 13, "font": "Roboto"},
      "encoding": {"x": {"datum": 14.425, "type": "quantitative"}, "y": {"datum": 189.5, "type": "quantitative"}, "text": {"value": "LVV"}}}
    ]
   }
  ]
 },
 {
  "title": {"text": "VA-ECMO + IABP", "font": "Liberation Sans", "fontSize": 59, "fontWeight": "bold", "color": "#C00000", "anchor": "middle", "dx": -58, "offset": 43, "frame": "bounds"},
  "spacing": 0,
  "bounds": "flush",
  "vconcat": [
   {
    "width": 994, "height": 398,
    "layer": [
     {"data": {"name": "espvr"}, "mark": {"type": "line", "color": "#555555", "strokeWidth": 1.6},
      "encoding": {"x": {"field": "v", "type": "quantitative", "scale": {"domain": [0, 187.9], "nice": false, "zero": false}, "axis": {"values": [20,40,60,80,100,120,140,160,180], "title": null}},
                   "y": {"field": "p", "type": "quantitative", "scale": {"domain": [0, 106], "nice": false}, "axis": {"values": [10,20,30,40,50,60,70,80,90,100], "title": "LVP (mmHg) vs LVV (ml)"}}}},
     {"data": {"name": "edpvr"}, "mark": {"type": "line", "color": "#555555", "strokeWidth": 1.6},
      "encoding": {"x": {"field": "v", "type": "quantitative"}, "y": {"field": "p", "type": "quantitative"}}},
     {"data": {"name": "green"}, "mark": {"type": "line", "color": "#4aa84a", "strokeWidth": 2.2, "strokeJoin": "round"},
      "encoding": {"x": {"field": "v", "type": "quantitative"}, "y": {"field": "p", "type": "quantitative"}, "order": {"field": "o", "type": "quantitative"}}},
     {"data": {"name": "redR"}, "mark": {"type": "line", "color": "#a52a78", "strokeWidth": 3, "strokeJoin": "round"},
      "encoding": {"x": {"field": "v", "type": "quantitative"}, "y": {"field": "p", "type": "quantitative"}, "order": {"field": "o", "type": "quantitative"}}},
     {"data": {"values": [{"v": 171.1, "p": 42.9}]}, "mark": {"type": "point", "filled": true, "color": "#111111", "size": 110, "opacity": 1},
      "encoding": {"x": {"field": "v", "type": "quantitative"}, "y": {"field": "p", "type": "quantitative"}}},
     {"data": {"values": [{}]}, "mark": {"type": "rect", "color": "#e8141c"},
      "encoding": {"x": {"datum": 178.6, "type": "quantitative"}, "x2": {"datum": 185}, "y": {"datum": 105.1, "type": "quantitative"}, "y2": {"datum": 99.4}}},
     {"data": {"values": [{}]}, "mark": {"type": "text", "color": "white", "fontSize": 13, "font": "Roboto", "fontWeight": "bold"},
      "encoding": {"x": {"datum": 181.8, "type": "quantitative"}, "y": {"datum": 102.2, "type": "quantitative"}, "text": {"value": "LV"}}}
    ]
   },
   {
    "width": 994, "height": 202,
    "layer": [
     {"data": {"name": "lvpR"}, "mark": {"type": "line", "color": "#e3566e", "strokeWidth": 1.3},
      "encoding": {"x": {"field": "t", "type": "quantitative", "scale": {"domain": [0, 14.97], "nice": false, "zero": false}, "axis": {"values": [1,2,3,4,5,6,7,8,9,10,11,12,13,14], "title": null}},
                   "y": {"field": "y", "type": "quantitative", "scale": {"domain": [0, 158], "nice": false}, "axis": {"values": [50,100,150], "title": "mmHg", "titleY": 14}}}},
     {"data": {"name": "lapR"}, "mark": {"type": "line", "color": "#9c9c3c", "strokeWidth": 1.6},
      "encoding": {"x": {"field": "t", "type": "quantitative"}, "y": {"field": "y", "type": "quantitative"}}},
     {"data": {"name": "aopR"}, "mark": {"type": "line", "color": "#4e8e52", "strokeWidth": 1.6},
      "encoding": {"x": {"field": "t", "type": "quantitative"}, "y": {"field": "y", "type": "quantitative"}}},
     {"data": {"values": [{}]}, "mark": {"type": "rule", "color": "#555555", "strokeWidth": 2.5},
      "encoding": {"x": {"datum": 1.9, "type": "quantitative"}}},
     {"data": {"values": [{}]}, "mark": {"type": "rect", "color": "#e8141c"},
      "encoding": {"x": {"datum": 13.04, "type": "quantitative"}, "x2": {"datum": 13.55}, "y": {"datum": 149.2, "type": "quantitative"}, "y2": {"datum": 132}}},
     {"data": {"values": [{}]}, "mark": {"type": "rect", "color": "#7d7d12"},
      "encoding": {"x": {"datum": 13.64, "type": "quantitative"}, "x2": {"datum": 14.16}, "y": {"datum": 149.2, "type": "quantitative"}, "y2": {"datum": 132}}},
     {"data": {"values": [{}]}, "mark": {"type": "rect", "color": "#1c7a1c"},
      "encoding": {"x": {"datum": 14.24, "type": "quantitative"}, "x2": {"datum": 14.75}, "y": {"datum": 149.2, "type": "quantitative"}, "y2": {"datum": 132}}},
     {"data": {"values": [{}]}, "mark": {"type": "text", "color": "white", "fontSize": 13, "font": "Roboto"},
      "encoding": {"x": {"datum": 13.295, "type": "quantitative"}, "y": {"datum": 140.6, "type": "quantitative"}, "text": {"value": "LVP"}}},
     {"data": {"values": [{}]}, "mark": {"type": "text", "color": "white", "fontSize": 13, "font": "Roboto"},
      "encoding": {"x": {"datum": 13.9, "type": "quantitative"}, "y": {"datum": 140.6, "type": "quantitative"}, "text": {"value": "LAP"}}},
     {"data": {"values": [{}]}, "mark": {"type": "text", "color": "white", "fontSize": 13, "font": "Roboto"},
      "encoding": {"x": {"datum": 14.495, "type": "quantitative"}, "y": {"datum": 140.6, "type": "quantitative"}, "text": {"value": "AOP"}}}
    ]
   },
   {
    "width": 994, "height": 202,
    "layer": [
     {"data": {"name": "lvvR"}, "mark": {"type": "line", "color": "#f7d0d7", "strokeWidth": 6, "interpolate": "monotone"},
      "encoding": {"x": {"field": "t", "type": "quantitative", "scale": {"domain": [0, 14.97], "nice": false, "zero": false}, "axis": {"values": [1,2,3,4,5,6,7,8,9,10,11,12,13,14], "title": null}},
                   "y": {"field": "y", "type": "quantitative", "scale": {"domain": [0, 213], "nice": false}, "axis": {"values": [50,100,150,200], "title": "ml", "titleY": 18}}}},
     {"data": {"name": "lvvR"}, "mark": {"type": "line", "color": "#c83c52", "strokeWidth": 1.6, "interpolate": "monotone"},
      "encoding": {"x": {"field": "t", "type": "quantitative"}, "y": {"field": "y", "type": "quantitative"}}},
     {"data": {"values": [{}]}, "mark": {"type": "rule", "color": "#555555", "strokeWidth": 2.5},
      "encoding": {"x": {"datum": 1.9, "type": "quantitative"}}},
     {"data": {"values": [{}]}, "mark": {"type": "rect", "color": "#e8141c"},
      "encoding": {"x": {"datum": 14.25, "type": "quantitative"}, "x2": {"datum": 14.76}, "y": {"datum": 202, "type": "quantitative"}, "y2": {"datum": 178.5}}},
     {"data": {"values": [{}]}, "mark": {"type": "text", "color": "white", "fontSize": 13, "font": "Roboto"},
      "encoding": {"x": {"datum": 14.505, "type": "quantitative"}, "y": {"datum": 190.2, "type": "quantitative"}, "text": {"value": "LVV"}}}
    ]
   }
  ]
 }
]
}
